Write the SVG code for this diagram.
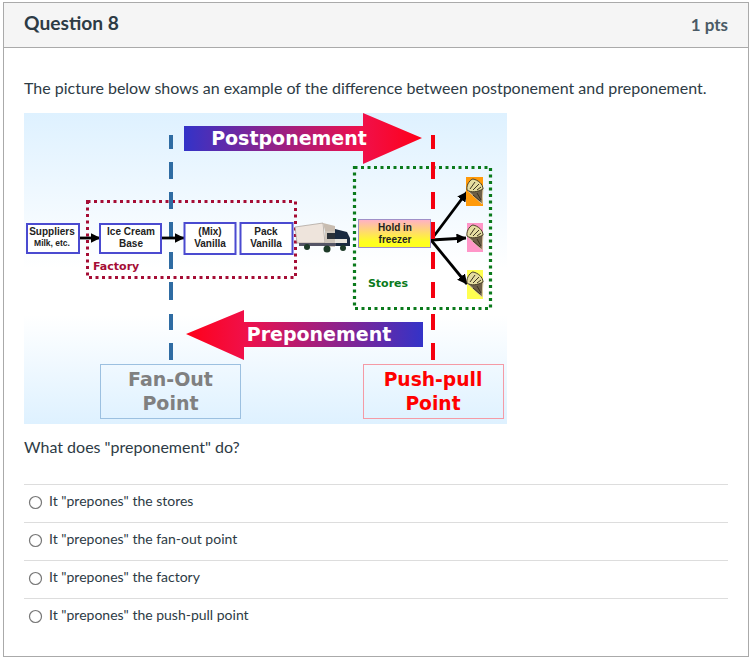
<svg xmlns="http://www.w3.org/2000/svg" width="752" height="663" viewBox="0 0 752 663">
<style>
text{font-family:Lato,"Liberation Sans",sans-serif;fill:#2d3b45}
.opt{font-size:14px}
.sep{stroke:#ddd;stroke-width:1}
.radio{fill:#fff;stroke:#777;stroke-width:1.2}
.d{font-family:"Liberation Sans",Arial,sans-serif;font-weight:700;fill:#222;text-anchor:middle}
.v{font-family:"DejaVu Sans",sans-serif;font-weight:700;text-anchor:middle}
.box{fill:#fff;stroke:#4a4ad0;stroke-width:2}
.blue{stroke:#2f6ca3;stroke-width:4;fill:none}
.red{stroke:#f5000f;stroke-width:4;fill:none}
.fac{fill:none;stroke:#a50d35;stroke-width:3;stroke-dasharray:3 3.5}
.sto{fill:none;stroke:#0b7a1c;stroke-width:3.2;stroke-dasharray:3 3.5}
.arr{stroke:#000;fill:none;stroke-width:2.8}
.cone{fill:#6e6048;stroke:#d8c8a8;stroke-width:1}
.cream{fill:#e4dca0;stroke:#4a4028;stroke-width:1}
</style>
<defs>
<linearGradient id="bg" x1="0" y1="0" x2="0" y2="1"><stop offset="0" stop-color="#def1ff"/><stop offset=".5" stop-color="#fff"/><stop offset=".65" stop-color="#fff"/><stop offset="1" stop-color="#def1ff"/></linearGradient>
<linearGradient id="pp" x1="0" y1="0" x2="1" y2="0"><stop offset="0" stop-color="#3333c8"/><stop offset=".75" stop-color="#f0104a"/><stop offset="1" stop-color="#ff0018"/></linearGradient>
<linearGradient id="pr" x1="1" y1="0" x2="0" y2="0"><stop offset="0" stop-color="#3333c8"/><stop offset=".75" stop-color="#f0104a"/><stop offset="1" stop-color="#ff0018"/></linearGradient>
<linearGradient id="fz" x1="0" y1="0" x2="0" y2="1"><stop offset="0" stop-color="#ffb0c8"/><stop offset=".8" stop-color="#ffff20"/><stop offset="1" stop-color="#ffff20"/></linearGradient>
<marker id="ah" markerUnits="userSpaceOnUse" markerWidth="10" markerHeight="10" refX="9.500" refY="5" orient="auto"><path d="M0 0L10 5L0 10z" fill="#000"/></marker>
<g id="cone"><path class="cone" d="M-7 -2L8 12L9 -4z"/><path class="cream" d="M-7 -2C-8 -8-3 -13 -1 -13C4 -12 9 -8 9 -3C4 0-3 1-7 -2z"/><path d="M-4 -3L1 -10M-1 -2L5 -8M3 -2L7 -5M-1 3L6 9M3 1L7 8" stroke="#3c3220" fill="none"/></g>
</defs>
<rect x="3.500" y="2.500" width="745" height="654" fill="#fff" stroke="#aaa"/>
<rect x="4" y="3" width="744" height="44" fill="#f5f5f5"/>
<path d="M4 47.500H748" stroke="#aaa"/>
<text x="24" y="30" font-size="19.200" font-weight="700">Question 8</text>
<text x="728" y="31" font-size="17" font-weight="700" text-anchor="end" style="fill:#4a5a66">1 pts</text>
<text x="24" y="94" font-size="16">The picture below shows an example of the difference between postponement and preponement.</text>

<rect x="24" y="113" width="483" height="311" fill="url(#bg)"/>
<g id="factory"><rect class="fac" x="87.500" y="201.500" width="208" height="76"/><text class="v" x="93" y="270" font-size="11" style="fill:#a50d35;text-anchor:start">Factory</text></g>
<g id="stores"><rect class="sto" x="354.500" y="167.500" width="136" height="141"/><text class="v" x="388" y="287" font-size="11" style="fill:#0b7a1c">Stores</text></g>
<g id="dash-lines">
<path class="blue" d="M171 135V149M171 162V179M171 192V209M171 222V239M171 252V269M171 282V300M171 314V330M171 343V360"/>
<path class="red" d="M433 135V149M433 162V179M433 192V209M433 222V239M433 252V269M433 282V298M433 314V330M433 343V360"/>
</g>
<g id="connectors">
<path class="arr" d="M79 238H100" marker-end="url(#ah)"/>
<path class="arr" d="M161 238H184" marker-end="url(#ah)"/>
<path class="arr" d="M431 240L467 192" marker-end="url(#ah)"/>
<path class="arr" d="M431 240L466 238" marker-end="url(#ah)"/>
<path class="arr" d="M431 240L467 284" marker-end="url(#ah)"/>
</g>
<g id="suppliers"><rect class="box" x="27" y="224" width="52" height="29"/><text class="d" x="52" y="235" font-size="10">Suppliers</text><text class="d" x="52" y="246" font-size="8.500">Milk, etc.</text></g>
<g id="ice-cream-base"><rect class="box" x="100" y="224" width="61" height="29"/><text class="d" x="131" y="235" font-size="10">Ice Cream</text><text class="d" x="131" y="247" font-size="10">Base</text></g>
<g id="mix-vanilla"><rect class="box" x="184.500" y="223" width="51" height="31"/><text class="d" x="210" y="235" font-size="10">(Mix)</text><text class="d" x="210" y="247" font-size="10">Vanilla</text></g>
<g id="pack-vanilla"><rect class="box" x="240.500" y="223" width="52" height="31"/><text class="d" x="266" y="235" font-size="10">Pack</text><text class="d" x="266" y="247" font-size="10">Vanilla</text></g>
<g id="truck">
<path d="M295 227L323 223L325 243L297 243z" fill="#eee4dc" stroke="#9a9088" stroke-width=".6"/>
<path d="M323 223L335 226L335 231L325 231z" fill="#c8bcb0"/>
<path d="M325 231H335V247H325z" fill="#cfc6bc"/>
<path d="M335 229L347 232L350 238V246H335z" fill="#1a2a40"/>
<path d="M327 233H335V239H327z" fill="#2a3038"/>
<path d="M335 239H347V243H335z" fill="#e8e4dc"/>
<path d="M299 243H336V246H299z" fill="#556"/>
<circle cx="307" cy="247" r="3" fill="#1d3a28"/><circle cx="327" cy="249" r="3.500" fill="#1d3a28"/><circle cx="343" cy="248" r="3" fill="#1d3a28"/>
</g>
<g id="hold-in-freezer"><rect x="358.500" y="219.500" width="72" height="28" fill="url(#fz)" stroke="#a090c8"/><text class="d" x="395" y="231" font-size="10">Hold in</text><text class="d" x="395" y="243" font-size="10">freezer</text></g>
<path d="M431 222H435V239H431z" fill="#f5000f"/>
<g id="cone-orange"><rect x="466" y="177" width="17" height="29" fill="#ff9a0a"/><use href="#cone" x="474" y="192"/></g>
<g id="cone-pink"><rect x="467" y="223" width="16" height="29" fill="#ff96c8"/><use href="#cone" x="474" y="238"/></g>
<g id="cone-yellow"><rect x="467" y="270" width="16" height="29" fill="#ffff50"/><use href="#cone" x="474" y="285"/></g>
<g id="postponement"><path d="M184 126H363V113L422 138L363 164V151H184z" fill="url(#pp)"/><text class="v" x="289" y="145" font-size="19" style="fill:#fff">Postponement</text></g>
<g id="preponement"><path d="M423 322H244V310L186 334L244 360V347H423z" fill="url(#pr)"/><text class="v" x="319" y="341" font-size="19" style="fill:#fff">Preponement</text></g>
<g id="fan-out-point"><rect x="100.500" y="364.500" width="140" height="54" fill="none" stroke="#9cc0e0"/><text class="v" x="170.500" y="386" font-size="19" style="fill:#808080">Fan-Out</text><text class="v" x="170.500" y="410" font-size="19" style="fill:#808080">Point</text></g>
<g id="push-pull-point"><rect x="363.500" y="364.500" width="140" height="54" fill="none" stroke="#f59aa5"/><text class="v" x="433" y="386" font-size="18.700" style="fill:#f00">Push-pull</text><text class="v" x="433" y="410" font-size="18.700" style="fill:#f00">Point</text></g>

<text x="24" y="453" font-size="16">What does "preponement" do?</text>
<path class="sep" d="M24 484.500H728M24 522.500H728M24 560.500H728M24 598.500H728"/>
<circle class="radio" cx="35.500" cy="502.500" r="6"/><text class="opt" x="49" y="506">It "prepones" the stores</text>
<circle class="radio" cx="35.500" cy="540.500" r="6"/><text class="opt" x="49" y="544">It "prepones" the fan-out point</text>
<circle class="radio" cx="35.500" cy="578.500" r="6"/><text class="opt" x="49" y="582">It "prepones" the factory</text>
<circle class="radio" cx="35.500" cy="616.500" r="6"/><text class="opt" x="49" y="620">It "prepones" the push-pull point</text>
</svg>
